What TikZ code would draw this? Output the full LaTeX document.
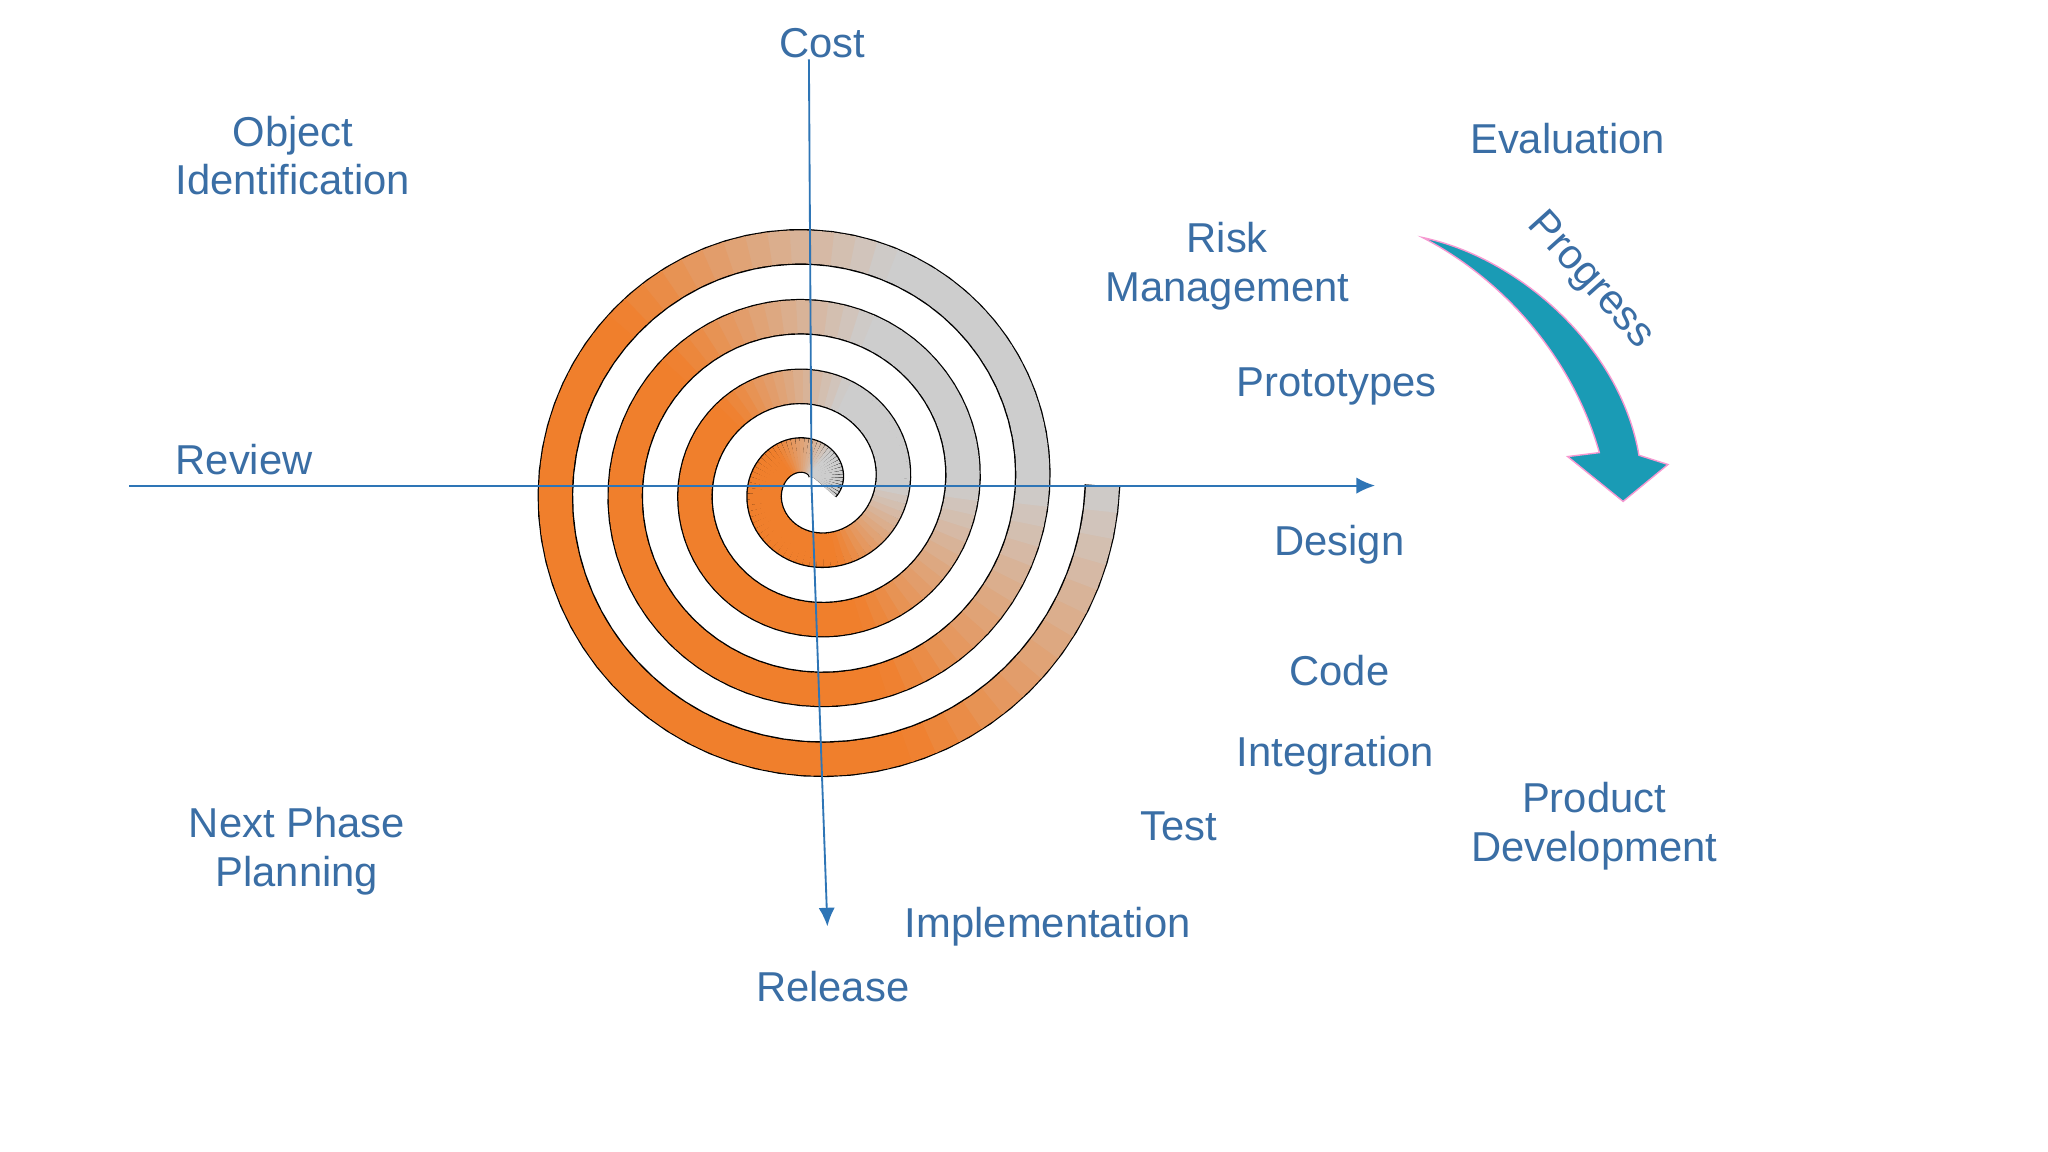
\documentclass[tikz,border=0pt]{standalone}
\usepackage{fontspec}
\setmainfont{Liberation Sans}
\usetikzlibrary{arrows.meta}
\definecolor{txt}{HTML}{3A6EA5}
\definecolor{ln}{HTML}{2E75B6}
\definecolor{org}{HTML}{F07F2C}
\definecolor{gry}{HTML}{CDCDCD}
\definecolor{teal}{HTML}{1A9BB5}
\begin{document}
\begin{tikzpicture}[x=0.01cm,y=-0.01cm,
  lab/.style={text=txt,font=\fontsize{9}{10.5}\selectfont,align=center,inner sep=0pt},
  ray/.style={draw=ln,line width=0.4pt,-{Latex[length=4pt,width=3.5pt]}}]
\useasboundingbox (0,0) rectangle (1552,873);
\fill[white] (0,0) rectangle (1552,873);
% spiral outline
\draw[black,line width=0.27cm,line cap=butt] plot[domain=0:1440,samples=300,variable=\x]
  ({615+(8.5+0.147222*\x)*cos(\x)},{368-(8.5+0.147222*\x)*sin(\x)});
% coloured band
\foreach \i in {0,...,287}{
  \pgfmathsetmacro{\ta}{\i*5}
  \pgfmathsetmacro{\tb}{min(\i*5+5.6,1440)}
  \pgfmathsetmacro{\ph}{mod(\i*5+2.5,360)}
  \pgfmathtruncatemacro{\g}{100*(max(0,min(1,(140-\ph)/70))+max(0,min(1,(\ph-290)/70)))}
  \draw[gry!\g!org,line width=0.25cm,line cap=butt] plot[domain=\ta:\tb,samples=3,variable=\x]
  ({615+(8.5+0.147222*\x)*cos(\x)},{368-(8.5+0.147222*\x)*sin(\x)});
}
\draw[black,line width=0.3pt] (615+220.5-13.5,368) -- (615+220.5+13.5,368);
% axes
\coordinate (c) at (615,368);
\coordinate (top) at (613,45);
\coordinate (bot) at (627,702);
\coordinate (lft) at (98,368);
\coordinate (rgt) at (1042,368);
\draw[draw=ln,line width=0.4pt] (top) -- (c);
\draw[ray] (c) -- (bot);
\draw[draw=ln,line width=0.4pt] (lft) -- (c);
\draw[ray] (c) -- (rgt);
\foreach \n/\p in {r1/{(955,128)},r2/{(1030,253)},r3/{(1065,458)},r4/{(1028,540)},r5/{(967,610)},r6/{(878,655)},r7/{(767,685)}}{
  \coordinate (\n) at \p;
  \draw[ray] (c) -- (\n);
}
% progress arrow
\fill[teal,draw=magenta!40,line width=0.3pt] (1078,180) .. controls (1150,195) and (1228,262) .. (1242,345)
  -- (1264,352) -- (1230,380) -- (1188,346) -- (1212,343)
  .. controls (1192,272) and (1140,212) .. (1078,180) -- cycle;
\node[lab,rotate=-48] (prog) at (1205,213) {Progress};
% labels
\node[lab] (cost) at (623,33) {Cost};
\node[lab] (obj) at (222,118) {Object\\Identification};
\node[lab] (eval) at (1188,105) {Evaluation};
\node[lab] (risk) at (930,202) {Risk\\Management};
\node[lab] (proto) at (1013,293) {Prototypes};
\node[lab] (rev) at (185,348) {Review};
\node[lab] (des) at (1015,413) {Design};
\node[lab] (code) at (1015,508) {Code};
\node[lab] (int) at (1012,573) {Integration};
\node[lab] (test) at (893,626) {Test};
\node[lab] (pd) at (1208,626) {Product\\Development};
\node[lab] (npp) at (225,645) {Next Phase\\Planning};
\node[lab] (impl) at (794,702) {Implementation};
\node[lab] (rel) at (631,748) {Release};
\end{tikzpicture}
\end{document}
